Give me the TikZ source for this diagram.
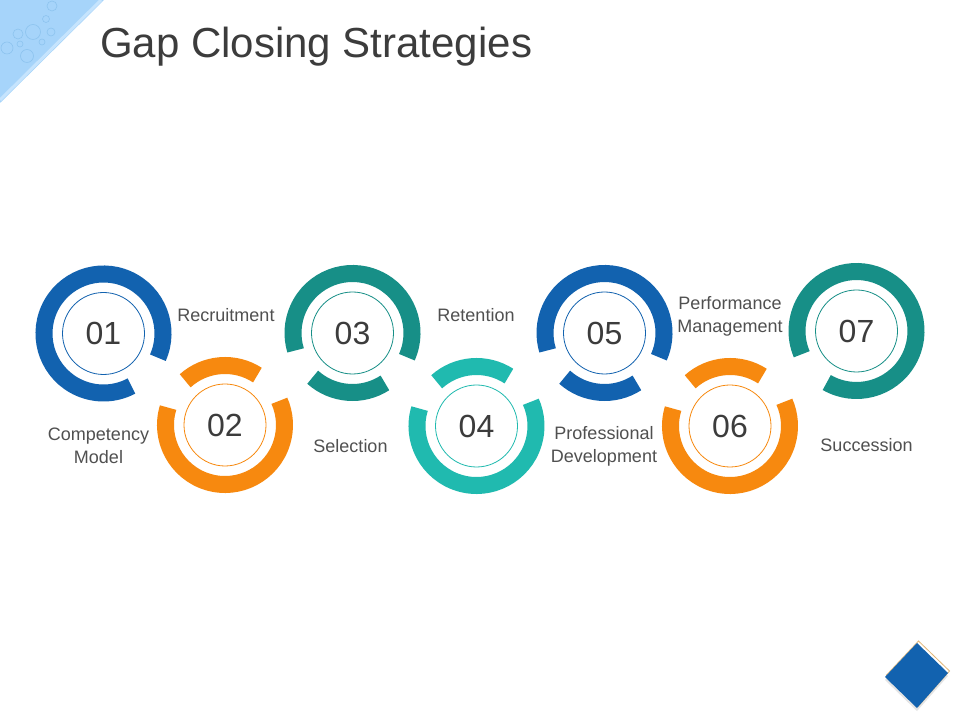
\documentclass[tikz,border=0pt]{standalone}
\usepackage{fontspec}
\setmainfont{Liberation Sans}
\usetikzlibrary{calc}
\definecolor{cblue}{HTML}{1262AF}
\definecolor{cteal}{HTML}{178F87}
\definecolor{corange}{HTML}{F7890F}
\definecolor{ccyan}{HTML}{20BAAF}
\definecolor{ctext}{HTML}{3C3C3C}
\definecolor{clabel}{HTML}{505050}
\definecolor{ctri}{HTML}{A6D4FA}
\definecolor{ctriedge}{HTML}{C6E4FD}
\definecolor{cbubble}{HTML}{8DC3EE}
\definecolor{ctan}{HTML}{E2B676}
\definecolor{cshadow}{HTML}{E4E4E4}
\begin{document}
\begin{tikzpicture}[x=1pt,y=1pt,
  ring/.style={line width=17pt},
  numnode/.style={circle, draw, line width=0.8pt, minimum size=82pt, inner sep=0pt,
    text=ctext, font=\fontsize{32}{38}\selectfont},
  lbl/.style={text=clabel, font=\fontsize{18}{23}\selectfont, align=center, inner sep=0pt},
  bubble/.style={draw=cbubble, line width=0.6pt}]
\useasboundingbox (0,0) rectangle (960,720);
\fill[white] (0,0) rectangle (960,720);

% corner decoration
\fill[ctri] (0,720) -- (104,720) -- (0,617) -- cycle;
\draw[ctriedge, line width=3pt] (101,720) -- (0,620);
\foreach \x/\y/\r in {33/32/7.5, 52/6/5, 46/19/3.5, 51/32/4, 18/34/5, 7/48/6, 27/56/6.5, 20/44/3, 42/42/3}
  \draw[bubble] (\x,720-\y) circle[radius=\r];

% title
\node[anchor=base west, inner sep=0pt, text=ctext, font=\fontsize{42}{50}\selectfont] (title) at (100,662) {Gap Closing Strategies};

% number nodes
\node[numnode, draw=cblue]   (n1) at (103.5,386.5) {01};
\node[numnode, draw=corange] (n2) at (225,295)     {02};
\node[numnode, draw=cteal]   (n3) at (352.5,387)   {03};
\node[numnode, draw=ccyan]   (n4) at (476.5,294)   {04};
\node[numnode, draw=cblue]   (n5) at (604.5,387)   {05};
\node[numnode, draw=corange] (n6) at (730,294)     {06};
\node[numnode, draw=cteal]   (n7) at (856.5,389)   {07};

% rings
\def\R{59.5}
\draw[ring, cblue] ($(n1)+(-24:\R)$) arc[start angle=-24, end angle=298, radius=\R];
\foreach \n/\c in {n2/corange, n4/ccyan, n6/corange}{
  \draw[ring, \c] ($(\n)+(163:\R)$) arc[start angle=163, end angle=384, radius=\R];
  \draw[ring, \c] ($(\n)+(57:\R)$) arc[start angle=57, end angle=132, radius=\R];
}
\foreach \n/\c in {n3/cteal, n5/cblue}{
  \draw[ring, \c] ($(\n)+(-24:\R)$) arc[start angle=-24, end angle=197, radius=\R];
  \draw[ring, \c] ($(\n)+(228:\R)$) arc[start angle=228, end angle=303, radius=\R];
}
\draw[ring, cteal] ($(n7)+(240:\R)$) arc[start angle=240, end angle=563, radius=\R];

% labels
\node[lbl] (l1) at (98.5,274) {Competency\\Model};
\node[lbl] (l2) at (226,405) {Recruitment};
\node[lbl] (l3) at (350.5,273.5) {Selection};
\node[lbl] (l4) at (476,405) {Retention};
\node[lbl] (l5) at (604,274) {Professional\\Development};
\node[lbl] (l6) at (730,404) {Performance\\Management};
\node[lbl] (l7) at (866.5,274.5) {Succession};

% bottom-right diamond
\fill[cshadow] (917,9) -- (885,40) -- (917,74) -- (948,44) -- cycle;
\draw[ctan, line width=0.8pt] (918.5,79) -- (886.5,45) -- (918.5,14) -- (949.5,49) -- cycle;
\fill[cblue] (917,77) -- (885,43) -- (917,12) -- (948,47) -- cycle;
\end{tikzpicture}
\end{document}
